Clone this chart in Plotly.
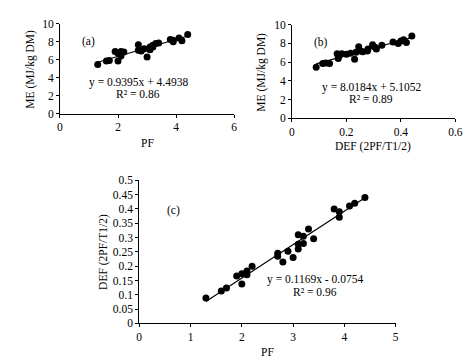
import plotly.graph_objects as go

# Data (same 27 samples in all panels)
PF = [1.3, 1.6, 1.7, 1.9, 2.0, 2.0, 2.1, 2.1, 2.2, 2.7, 2.7, 2.8, 2.9, 3.0,
      3.1, 3.1, 3.1, 3.2, 3.2, 3.3, 3.4, 3.8, 3.9, 3.9, 4.1, 4.2, 4.4]
DEF = [0.089, 0.113, 0.124, 0.166, 0.174, 0.138, 0.183, 0.170, 0.200, 0.245,
       0.235, 0.215, 0.252, 0.230, 0.310, 0.277, 0.260, 0.305, 0.279, 0.330,
       0.296, 0.400, 0.390, 0.371, 0.410, 0.420, 0.440]
ME = [5.45, 5.85, 5.90, 6.90, 6.70, 5.85, 6.90, 6.40, 6.85, 7.65, 7.05, 6.95,
      7.20, 6.30, 7.40, 7.20, 7.10, 7.60, 7.40, 7.80, 7.85, 8.25, 8.00, 8.15,
      8.40, 8.10, 8.80]

# Regression coefficients printed on the chart
FIT_A = (0.9395, 4.4938)
FIT_B = (8.0184, 5.1052)
FIT_C = (0.1169, -0.0754)

EQ_A = ["y = 0.9395x + 4.4938", "R² = 0.86"]
EQ_B = ["y = 8.0184x + 5.1052", "R² = 0.89"]
EQ_C = ["y = 0.1169x - 0.0754", "R² = 0.96"]

W, H = 474, 364
FONT = "Liberation Serif"
FS = 11.5


def px_x(v):
    return v / W


def px_y(v):
    return 1 - v / H


fig = go.Figure()

panels = [
    (PF, ME, FIT_A, "x", "y"),
    (DEF, ME, FIT_B, "x2", "y2"),
    (PF, DEF, FIT_C, "x3", "y3"),
]

for xs, ys, (m, b), xa, ya in panels:
    xmin, xmax = min(xs), max(xs)
    fig.add_trace(go.Scatter(x=[xmin, xmax], y=[m * xmin + b, m * xmax + b],
                             mode="lines", line=dict(color="black", width=1.2),
                             xaxis=xa, yaxis=ya, showlegend=False, hoverinfo="skip"))
    fig.add_trace(go.Scatter(x=xs, y=ys, mode="markers",
                             marker=dict(color="black", size=7),
                             xaxis=xa, yaxis=ya, showlegend=False))

axis_common = dict(showgrid=False, zeroline=False, showline=True, linecolor="black",
                   linewidth=1, ticks="outside", ticklen=3, tickcolor="black",
                   tickfont=dict(family=FONT, size=FS, color="black"))

fig.update_layout(
    width=W, height=H,
    margin=dict(l=0, r=0, t=0, b=0),
    paper_bgcolor="white", plot_bgcolor="white",
    font=dict(family=FONT, size=FS, color="black"),
    xaxis=dict(domain=[px_x(50), px_x(228)], range=[0, 6], tickvals=[0, 2, 4, 6],
               anchor="y", **axis_common),
    yaxis=dict(domain=[px_y(103), px_y(10)], range=[0, 10], tickvals=[0, 2, 4, 6, 8, 10],
               anchor="x", **axis_common),
    xaxis2=dict(domain=[px_x(287), px_x(454)], range=[0, 0.6], tickvals=[0, 0.2, 0.4, 0.6],
                anchor="y2", **axis_common),
    yaxis2=dict(domain=[px_y(108), px_y(11)], range=[0, 10], tickvals=[0, 2, 4, 6, 8, 10],
                anchor="x2", **axis_common),
    xaxis3=dict(domain=[px_x(131), px_x(393)], range=[0, 5], tickvals=[0, 1, 2, 3, 4, 5],
                anchor="y3", **axis_common),
    yaxis3=dict(domain=[px_y(320), px_y(172)], range=[0, 0.5],
                tickvals=[0, 0.05, 0.1, 0.15, 0.2, 0.25, 0.3, 0.35, 0.4, 0.45, 0.5],
                ticktext=["0", "0.05", "0.1", "0.15", "0.2", "0.25", "0.3", "0.35",
                          "0.4", "0.45", "0.5"],
                anchor="x3", **axis_common),
)

ann = []


def txt(text, x, y, xref, yref, angle=0):
    ann.append(dict(text=text, x=x, y=y, xref=xref, yref=yref, showarrow=False,
                    textangle=angle, font=dict(family=FONT, size=FS, color="black"),
                    xanchor="center", yanchor="middle"))


txt("(a)", 1.0, 8.0, "x", "y")
txt(EQ_A[0], 2.69, 3.44, "x", "y")
txt(EQ_A[1], 2.69, 2.15, "x", "y")
txt("(b)", 0.108, 8.1, "x2", "y2")
txt(EQ_B[0], 0.291, 3.3, "x2", "y2")
txt(EQ_B[1], 0.291, 2.06, "x2", "y2")
txt("(c)", 0.67, 0.395, "x3", "y3")
txt(EQ_C[0], 3.42, 0.155, "x3", "y3")
txt(EQ_C[1], 3.42, 0.111, "x3", "y3")

txt("PF", px_x(139), px_y(133), "paper", "paper")
txt("DEF (2PF/T1/2)", px_x(370), px_y(137), "paper", "paper")
txt("PF", px_x(262), px_y(350), "paper", "paper")
txt("ME (MJ/kg DM)", px_x(20), px_y(57), "paper", "paper", -90)
txt("ME (MJ/kg DM)", px_x(255), px_y(60), "paper", "paper", -90)
txt("DEF (2PF/T1/2)", px_x(95), px_y(246), "paper", "paper", -90)

fig.update_layout(annotations=ann)

fig.write_html("out.html")
